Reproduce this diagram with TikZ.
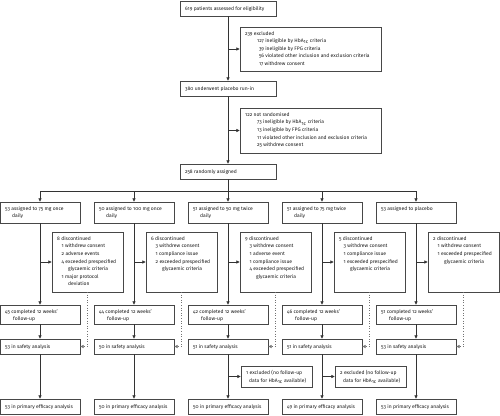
\documentclass[tikz,border=0pt]{standalone}
\usepackage{fontspec}
\setmainfont{Fira Sans}[Numbers=OldStyle]
\usetikzlibrary{arrows.meta,calc}
\newcommand\mybox[6]{%
  \node[box, minimum width=#4pt, minimum height=#5pt] (#1) at (#2,#3) {};
  \node[txt, anchor=north west] (#1t) at ([xshift=5pt,yshift=-4.2pt]#1.north west) {#6};}
\newcommand\mycbox[6]{%
  \node[box, minimum width=#4pt, minimum height=#5pt] (#1) at (#2,#3) {};
  \node[txt, anchor=west] (#1t) at ([xshift=5pt,yshift=-0.3pt]#1.west) {#6};}
\newcommand\hba{HbA\textsubscript{1c}}
\begin{document}
\begin{tikzpicture}[x=1pt,y=-1pt,
  box/.style={draw=black!72, line width=0.65pt, rectangle, inner sep=0pt, outer sep=0pt, anchor=north west},
  txt/.style={inner sep=0pt, align=left, font=\fontsize{5}{7.6}\selectfont, text=black!90},
  arr/.style={draw=black!80, line width=0.65pt, -{Latex[length=3.6pt,width=3.6pt]}},
  ln/.style={draw=black!80, line width=0.65pt},
  dotarr/.style={draw=black!55, line width=0.6pt, dotted, -{Latex[length=3.6pt,width=3.6pt]}}]
\useasboundingbox (0,0) rectangle (500,415);

% top chain
\mycbox{elig}{180}{1}{96}{15}{619 patients assessed for eligibility}
\mybox{excl}{240}{27}{141}{44}{239 excluded\\
\hspace*{12pt}127 ineligible by \hba{} criteria\\
\hspace*{13.8pt}39 ineligible by FPG criteria\\
\hspace*{13.8pt}56 violated other inclusion and exclusion criteria\\
\hspace*{13.8pt}17 withdrew consent}
\mycbox{runin}{180}{81}{96}{15}{380 underwent placebo run-in}
\mybox{notr}{240}{108}{141}{45}{122 not randomised\\
\hspace*{12pt}73 ineligible by \hba{} criteria\\
\hspace*{12pt}13 ineligible by FPG criteria\\
\hspace*{12pt}11 violated other inclusion and exclusion criteria\\
\hspace*{12pt}25 withdrew consent}
\mycbox{rand}{180}{164}{96}{15}{258 randomly assigned}

\draw[arr] (elig.south) -- (runin.north);
\draw[arr] (elig.south |- excl.west) -- (excl.west);
\draw[arr] (runin.south) -- (rand.north);
\draw[arr] (runin.south |- notr.west) -- (notr.west);

% arms
\mybox{a1}{0}{202}{80}{21}{53 assigned to 75 mg once\\\hspace*{7pt}daily}
\mybox{a2}{94}{202}{80}{21}{50 assigned to 100 mg once\\\hspace*{7pt}daily}
\mybox{a3}{188}{202}{80}{21}{51 assigned to 50 mg twice\\\hspace*{7pt}daily}
\mybox{a4}{282}{202}{80}{21}{51 assigned to 75 mg twice\\\hspace*{7pt}daily}
\mybox{a5}{376}{202}{80}{21}{53 assigned to placebo}

\mybox{d1}{52}{232}{71}{60}{8 discontinued\\
\hspace*{4.5pt}1 withdrew consent\\
\hspace*{4.5pt}2 adverse events\\
\hspace*{4.5pt}4 exceeded prespecified\\
\hspace*{11pt}glycaemic criteria\\
\hspace*{4.5pt}1 major protocol\\
\hspace*{11pt}deviation}
\mybox{d2}{146}{232}{71}{60}{6 discontinued\\
\hspace*{4.5pt}3 withdrew consent\\
\hspace*{4.5pt}1 compliance issue\\
\hspace*{4.5pt}2 exceeded prespecified\\
\hspace*{11pt}glycaemic criteria}
\mybox{d3}{240}{232}{71}{60}{9 discontinued\\
\hspace*{4.5pt}3 withdrew consent\\
\hspace*{4.5pt}1 adverse event\\
\hspace*{4.5pt}1 compliance issue\\
\hspace*{4.5pt}4 exceeded prespecified\\
\hspace*{11pt}glycaemic criteria}
\mybox{d4}{334}{232}{71}{60}{5 discontinued\\
\hspace*{4.5pt}3 withdrew consent\\
\hspace*{4.5pt}1 compliance issue\\
\hspace*{4.5pt}1 exceeded prespecified\\
\hspace*{11pt}glycaemic criteria}
\mybox{d5}{428}{232}{71}{60}{2 discontinued\\
\hspace*{4.5pt}1 withdrew consent\\
\hspace*{4.5pt}1 exceeded prespecified\\
\hspace*{11pt}glycaemic criteria}

\mybox{c1}{0}{305}{80}{19}{45 completed 12 weeks'\\\hspace*{8pt}follow-up}
\mybox{c2}{94}{305}{80}{19}{44 completed 12 weeks'\\\hspace*{8pt}follow-up}
\mybox{c3}{188}{305}{80}{19}{42 completed 12 weeks'\\\hspace*{8pt}follow-up}
\mybox{c4}{282}{305}{80}{19}{46 completed 12 weeks'\\\hspace*{8pt}follow-up}
\mybox{c5}{376}{305}{80}{19}{51 completed 12 weeks'\\\hspace*{8pt}follow-up}

\mycbox{s1}{0}{339}{80}{15}{53 in safety analysis}
\mycbox{s2}{94}{339}{80}{15}{50 in safety analysis}
\mycbox{s3}{188}{339}{80}{15}{51 in safety analysis}
\mycbox{s4}{282}{339}{80}{15}{51 in safety analysis}
\mycbox{s5}{376}{339}{80}{15}{53 in safety analysis}

\mybox{e3}{241}{366}{71}{21}{1 excluded (no follow-up\\\hspace*{3pt}data for \hba{} available)}
\mybox{e4}{335}{366}{71}{21}{2 excluded (no follow-up\\\hspace*{3pt}data for \hba{} available)}

\mycbox{p1}{0}{399}{80}{15}{53 in primary efficacy analysis}
\mycbox{p2}{94}{399}{80}{15}{50 in primary efficacy analysis}
\mycbox{p3}{188}{399}{80}{15}{50 in primary efficacy analysis}
\mycbox{p4}{282}{399}{80}{15}{49 in primary efficacy analysis}
\mycbox{p5}{376}{399}{80}{15}{53 in primary efficacy analysis}

% distribution
\coordinate (split) at (228,191);
\draw[ln] (rand.south) -- (split);
\draw[ln] (split -| a1.north) -- (split -| a5.north);
\foreach \i in {1,...,5}{
  \draw[arr] (split -| a\i.north) -- (a\i.north);
  \draw[arr] (a\i.south) -- (c\i.north);
  \draw[arr] (a\i.south |- d\i.west) -- (d\i.west);
  \draw[arr] (c\i.south) -- (s\i.north);
  \draw[arr] (s\i.south) -- (p\i.north);
  \draw[dotarr] (d\i.south) -- (d\i.south |- s\i.east) -- (s\i.east);
}
\draw[arr] (s3.south |- e3.west) -- (e3.west);
\draw[arr] (s4.south |- e4.west) -- (e4.west);
\end{tikzpicture}
\end{document}
